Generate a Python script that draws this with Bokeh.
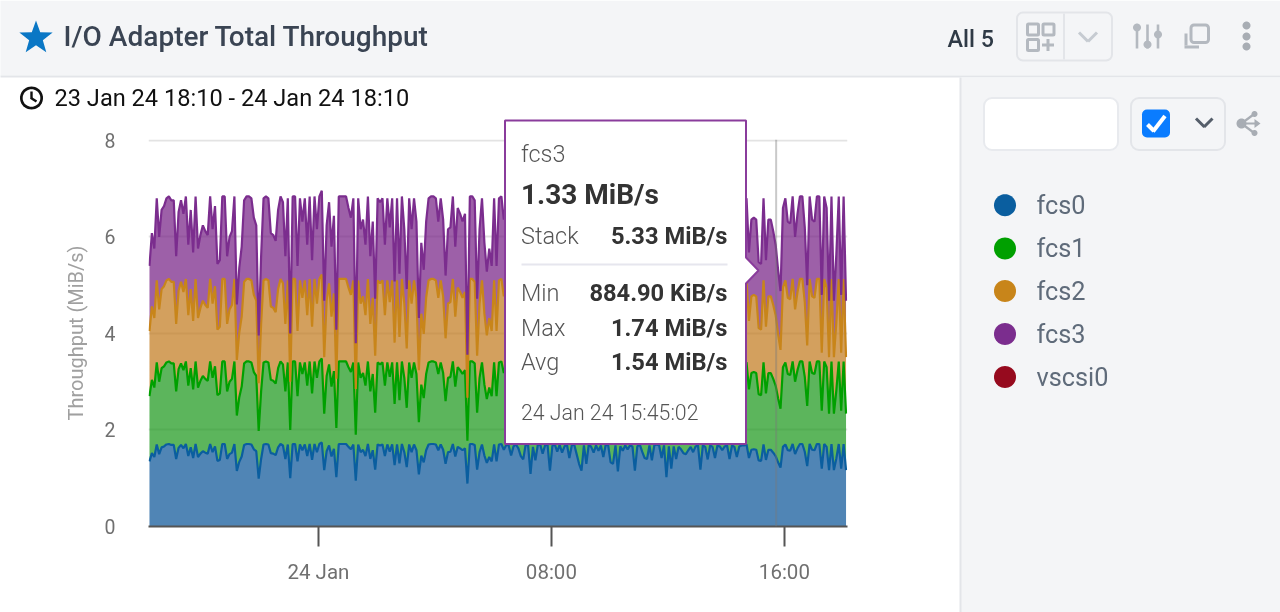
import math
from datetime import datetime, timedelta
from bokeh.plotting import figure
from bokeh.embed import file_html
from bokeh.resources import INLINE
from bokeh.models import (BoxAnnotation, ColumnDataSource, FixedTicker, Label,
                          PolyAnnotation, Span)

title_text = "I/O Adapter Total Throughput"
range_text = "23 Jan 24 18:10 - 24 Jan 24 18:10"
series_names = ["fcs0", "fcs1", "fcs2", "fcs3", "vscsi0"]
line_colors = ["#0a5e9f", "#00a000", "#c8851a", "#7b2d8e"]
fill_colors = ["#0c5699", "#1d991d", "#c27b20", "#772287"]
legend_colors = ["#0a5e9f", "#00a000", "#c8851a", "#7b2d8e", "#960a1e"]
y_ticks = [0, 2, 4, 6, 8]
y_title = "Throughput (MiB/s)"
start_time = datetime(2024, 1, 23, 18, 10)
end_time = datetime(2024, 1, 24, 18, 10)
first_sample = datetime(2024, 1, 23, 18, 12)
x_tick_times = [datetime(2024, 1, 24, 0, 0), datetime(2024, 1, 24, 8, 0), datetime(2024, 1, 24, 16, 0)]
x_tick_labels = ["24 Jan", "08:00", "16:00"]
hover_time = datetime(2024, 1, 24, 15, 43, 0)

# MiB/s per adapter, one reading every 5 minutes. The four fcs adapters carry the same load.
fcs0 = [
1.35,1.52,1.44,1.70,1.50,1.64,1.66,1.70,1.71,1.69,1.69,1.40,1.63,1.69,1.62,1.71,1.46,1.64,1.42,1.71,
1.44,1.51,1.56,1.53,1.51,1.71,1.54,1.66,1.36,1.38,1.71,1.71,1.40,1.50,1.53,1.71,1.15,1.34,1.45,1.69,
1.71,1.71,1.70,1.60,1.56,0.99,1.40,1.70,1.71,1.70,1.52,1.51,1.48,1.64,1.71,1.68,1.40,1.70,1.00,1.71,
1.71,1.35,1.70,1.58,1.70,1.46,1.71,1.38,1.71,1.54,1.71,1.74,1.17,1.56,1.68,1.45,1.61,1.02,1.71,1.71,
1.71,1.71,1.65,1.60,1.70,0.95,1.70,1.54,1.59,1.46,1.71,1.40,1.58,1.18,1.70,1.68,1.70,1.46,1.70,1.55,
1.70,1.27,1.70,1.31,1.71,1.54,1.23,1.70,1.54,1.70,1.58,1.08,1.47,1.33,1.58,1.70,1.71,1.71,1.70,1.58,
1.70,1.59,1.30,1.54,1.55,1.71,1.45,1.65,1.62,1.58,1.62,0.89,1.71,1.71,1.69,1.18,1.54,1.70,1.47,1.32,
1.44,1.35,1.70,1.35,1.70,1.71,1.59,1.69,1.68,1.47,1.66,1.70,1.62,1.46,1.39,1.70,1.68,1.09,1.65,1.37,
1.69,1.70,1.51,1.68,1.70,1.16,1.67,1.70,1.55,1.69,1.53,1.66,1.70,1.42,1.68,1.70,1.50,1.30,1.16,1.68,
1.30,1.70,1.65,1.53,1.68,1.57,1.68,1.44,1.70,1.68,1.33,1.30,1.68,1.14,1.66,1.57,1.68,1.60,1.68,1.66,
1.16,1.66,1.70,1.55,1.42,1.40,1.68,1.37,1.68,1.70,1.68,1.42,1.68,1.02,1.66,1.20,1.66,1.40,1.65,1.60,
1.52,1.50,1.58,1.65,1.54,1.66,1.68,1.18,1.68,1.65,1.39,1.68,1.65,1.42,1.68,1.66,1.58,1.66,1.68,1.40,
1.68,1.65,1.44,1.66,1.68,1.68,1.70,1.42,1.59,1.60,1.59,1.37,1.36,1.70,1.38,1.59,1.59,1.53,1.46,1.33,
1.22,1.65,1.70,1.58,1.57,1.71,1.50,1.62,1.71,1.71,1.55,1.25,1.71,1.59,1.58,1.71,1.71,1.20,1.71,1.65,
1.17,1.71,1.17,1.41,1.71,1.20,1.71,1.17]
fcs1 = list(fcs0)
fcs2 = list(fcs0)
fcs3 = list(fcs0)
vscsi0 = [0.0] * len(fcs0)
times = [first_sample + timedelta(minutes=5 * i) for i in range(len(fcs0))]

FONT = "Roboto"
W, H = 1280, 612

# the chart itself, with its real axes
chart = figure(width=W, height=H, frame_width=699, frame_height=387,
               min_border_left=148, min_border_right=433, min_border_top=139, min_border_bottom=86,
               x_axis_type="datetime", x_range=(start_time, end_time), y_range=(0, 8.02),
               toolbar_location=None, tools="", output_backend="svg",
               background_fill_color="white", border_fill_color="white", outline_line_color=None)
chart.styles = {"position": "fixed", "left": "0px", "top": "0px", "z-index": "1"}

src = ColumnDataSource(dict(x=times, fcs0=fcs0, fcs1=fcs1, fcs2=fcs2, fcs3=fcs3, vscsi0=vscsi0))
stack = series_names[:4]
chart.varea_stack(stack, x="x", source=src, color=fill_colors, alpha=0.72)
chart.vline_stack(stack, x="x", source=src, color=line_colors, line_width=2.2)

chart.xgrid.visible = False
chart.ygrid.grid_line_color = "#e3e3e3"
chart.ygrid.grid_line_width = 2
chart.ygrid.ticker = FixedTicker(ticks=y_ticks[1:])

yax = chart.yaxis[0]
yax.ticker = FixedTicker(ticks=y_ticks)
yax.axis_line_color = None
yax.major_tick_line_color = None
yax.minor_tick_line_color = None
yax.major_label_standoff = 27
yax.major_label_text_font = FONT
yax.major_label_text_font_size = "19.5px"
yax.major_label_text_color = "#707070"
yax.axis_label = y_title
yax.axis_label_text_font = FONT
yax.axis_label_text_font_style = "normal"
yax.axis_label_text_font_size = "20px"
yax.axis_label_text_color = "#a0a0a0"
yax.axis_label_standoff = 14

xax = chart.xaxis[0]
tick_ms = [(t - datetime(1970, 1, 1)).total_seconds() * 1000 for t in x_tick_times]
xax.ticker = FixedTicker(ticks=tick_ms)
xax.major_label_overrides = dict(zip(tick_ms, x_tick_labels))
xax.axis_line_color = "#555555"
xax.axis_line_width = 2
xax.major_tick_line_color = "#555555"
xax.major_tick_line_width = 2
xax.major_tick_out = 20
xax.major_tick_in = 0
xax.minor_tick_line_color = None
xax.major_label_standoff = 13
xax.major_label_text_font = FONT
xax.major_label_text_font_size = "20.5px"
xax.major_label_text_color = "#707070"

chart.add_layout(Span(location=hover_time, dimension="height", line_color="#777777", line_alpha=0.4, line_width=2))

# a transparent sheet over the whole window for the page furniture and the tooltip
p = figure(width=W, height=H, x_range=(0, W), y_range=(H, 0), x_axis_location=None, y_axis_location=None,
           min_border=0, toolbar_location=None, tools="", output_backend="svg",
           background_fill_color=None, border_fill_color=None, outline_line_color=None)
p.xgrid.visible = False
p.ygrid.visible = False
p.styles = {"position": "fixed", "left": "0px", "top": "0px", "z-index": "2", "pointer-events": "none"}

DX = -1  # the sheet draws one pixel to the right of the window


def box(x0, y0, x1, y1, fill="#ffffff", line=None, lw=1, radius=0):
    p.add_layout(BoxAnnotation(left=x0 + DX, right=x1 + DX, top=y0, bottom=y1,
                               left_units="canvas", right_units="canvas", top_units="canvas", bottom_units="canvas",
                               fill_color=fill, fill_alpha=1 if fill else 0,
                               line_color=line, line_alpha=1, line_width=lw, border_radius=radius, level="overlay"))


def poly(xs, ys, fill="#000000", line=None, lw=1):
    p.add_layout(PolyAnnotation(xs=[v + DX for v in xs], ys=list(ys), xs_units="canvas", ys_units="canvas",
                                fill_color=fill, fill_alpha=1 if fill else 0,
                                line_color=line, line_alpha=1, line_width=lw, level="overlay"))


def disc(cx, cy, r, fill):
    a = [2 * math.pi * k / 40 for k in range(40)]
    poly([cx + r * math.cos(t) for t in a], [cy + r * math.sin(t) for t in a], fill=fill)


def seg(x0, y0, x1, y1, w, color):
    L = math.hypot(x1 - x0, y1 - y0)
    nx, ny = -(y1 - y0) / L * w / 2, (x1 - x0) / L * w / 2
    poly([x0 + nx, x1 + nx, x1 - nx, x0 - nx], [y0 + ny, y1 + ny, y1 - ny, y0 - ny], fill=color)


def text(x, y, s, size, color, font=FONT, align="left", style="normal"):
    p.add_layout(Label(x=x + DX, y=y, x_units="canvas", y_units="canvas", text=s, text_font=font,
                       text_font_size=f"{size}px", text_color=color, text_align=align,
                       text_baseline="middle", text_font_style=style, level="overlay"))


# header and side panel
PANEL = "#f4f5f7"
RULE = "#e3e5e9"
box(-2, 0, W + 3, 75, PANEL)
box(-2, 75, W + 3, 77, RULE)
box(961, 77, W + 3, H + 2, PANEL)
box(960, 77, 962, H + 2, RULE)

# star and title
star = [(36.5 + (17.5 if k % 2 == 0 else 7.2) * math.sin(k * math.pi / 5),
         37.5 - (17.5 if k % 2 == 0 else 7.2) * math.cos(k * math.pi / 5)) for k in range(10)]
poly([q[0] for q in star], [q[1] for q in star], fill="#0a77c5")
text(64, 36, title_text, 28, "#3a4453", font="Roboto Medium")

# clock and time range
disc(32, 97.5, 11.5, "#111111")
disc(32, 97.5, 8.8, "#ffffff")
seg(32, 91, 32, 98.5, 2.4, "#111111")
seg(31.5, 97.5, 37, 101, 2.4, "#111111")
text(55, 97, range_text, 23.6, "#111111")

# header controls
GREY = "#b4b9c0"
text(948, 38, "All 5", 23.3, "#2f3a46", font="Roboto Medium")
box(1017.5, 12, 1112.5, 60, PANEL, RULE, 2, 6)
box(1063.5, 13, 1065.5, 59, RULE)
for x0, y0 in [(1028, 23.5), (1043.5, 23.5), (1028, 39)]:
    box(x0, y0, x0 + 11, y0 + 11, PANEL, GREY, 3, 1)
seg(1042.5, 44.5, 1054.5, 44.5, 3, GREY)
seg(1048.5, 38.5, 1048.5, 50.5, 3, GREY)
seg(1079.5, 32, 1088.5, 41, 3, "#c6cbd1")
seg(1088.5, 41, 1097.5, 32, 3, "#c6cbd1")
for xv, yk in [(1137.5, 27), (1148, 44), (1158.5, 34)]:
    seg(xv, 24, xv, 48, 2.6, GREY)
    disc(xv, yk, 4, GREY)
box(1191.5, 24.5, 1209, 42, PANEL, GREY, 3, 3)
seg(1186.5, 33, 1186.5, 45, 3, GREY)
seg(1185, 46.5, 1199.5, 46.5, 3, GREY)
for yd in (25, 36, 46):
    disc(1247, yd, 4, "#a8adb4")

# side panel controls
box(984.5, 97.5, 1118.5, 149.5, "#ffffff", "#e8eaee", 2, 8)
box(1131.5, 97.5, 1225.5, 149.5, PANEL, RULE, 2, 8)
box(1142.5, 109, 1170.5, 137, "#0a7cff", None, 1, 5)
seg(1148, 124, 1154.5, 130.5, 4, "#ffffff")
seg(1153.5, 131, 1165.5, 115.5, 4, "#ffffff")
seg(1196.5, 118, 1205, 126.5, 3, "#555e6a")
seg(1204.5, 126.5, 1213, 118, 3, "#555e6a")
disc(1242, 123, 5, "#a8adb4")
for xe, ye in [(1258, 123), (1254, 114), (1254, 132)]:
    seg(1242, 123, xe, ye, 2.2, "#a8adb4")
poly([1261, 1255, 1255], [123, 118.5, 127.5], fill="#a8adb4")
disc(1255, 113.5, 3, "#a8adb4")
disc(1255, 132.5, 3, "#a8adb4")

# legend
legend_ys = [204.7, 248, 290.5, 333.5, 376.5]
for name, col, yy in zip(series_names, legend_colors, legend_ys):
    disc(1005.5, yy, 11, col)
    text(1037, yy, name, 25.3, "#5f6b7a")

# tooltip
poly([505.5, 746.5, 746.5, 759, 746.5, 746.5, 505.5], [120, 120, 257, 270, 283, 443.5, 443.5],
     fill="#ffffff", line="#8a3c9c", lw=2)
TT = "#555555"
TB = "#333333"
LIGHT = "Roboto Light"
text(521.5, 153, "fcs3", 23.5, TT, font=LIGHT)
text(521.5, 194, "1.33 MiB/s", 28, TB, style="bold")
text(521.5, 235, "Stack", 23.5, TT, font=LIGHT)
text(728, 235, "5.33 MiB/s", 23.7, TB, align="right", style="bold")
box(522, 263, 728, 265, "#e6e6ee")
for yy, a, b in [(292, "Min", "884.90 KiB/s"), (327, "Max", "1.74 MiB/s"), (361, "Avg", "1.54 MiB/s")]:
    text(521.5, yy, a, 23.5, TT, font=LIGHT)
    text(728, yy, b, 23.7, TB, align="right", style="bold")
text(521.5, 412, "24 Jan 24 15:45:02", 21.3, TT, font=LIGHT)

open("out.html", "w").write(file_html([chart, p], INLINE))
